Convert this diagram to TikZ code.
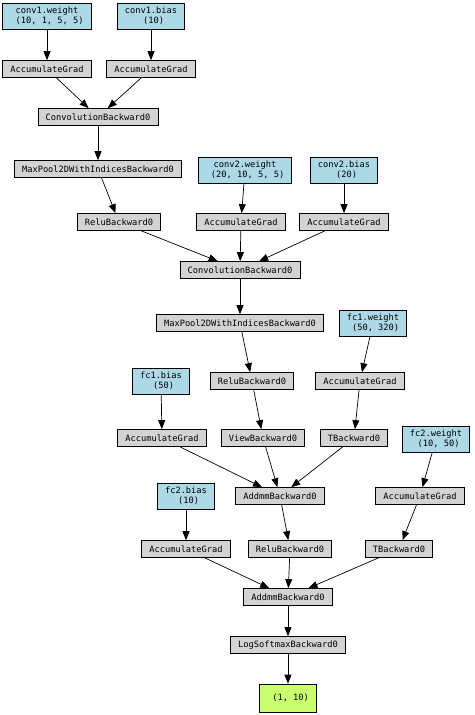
\documentclass[tikz,border=0pt]{standalone}
\usepackage{fontspec}
\setmonofont{DejaVu Sans Mono}
\usepackage{tikz}
\usetikzlibrary{arrows.meta}
\definecolor{parblue}{HTML}{ADD8E6}
\definecolor{opgray}{HTML}{D3D3D3}
\definecolor{outgreen}{HTML}{CAFF70}

\begin{document}
\begin{tikzpicture}[
  x=1pt, y=-1pt,
  font=\ttfamily\fontsize{8.7}{10}\selectfont,
  opbox/.style={draw, line width=0.7pt, fill=opgray, inner xsep=7.5pt,
    inner ysep=0pt, minimum height=17pt},
  parbox/.style={opbox, fill=parblue, align=center, minimum height=26pt,
    inner ysep=2pt},
  outbox/.style={opbox, fill=outgreen, minimum width=57pt, minimum height=28pt},
  arrow/.style={-{Triangle[length=9pt,width=7pt]}, line width=0.7pt}
]
\useasboundingbox (0,0) rectangle (474,715);
% first convolution
\node[parbox] (w1) at (47,16) {conv1.weight\\\phantom{0}(10, 1, 5, 5)};
\node[parbox] (b1) at (151,16) {conv1.bias\\\phantom{0}(10)};
\node[opbox] (ag1w) at (47,69) {AccumulateGrad};
\node[opbox] (ag1b) at (151,69) {AccumulateGrad};
\node[opbox] (conv1) at (98,117) {ConvolutionBackward0};
\node[opbox] (pool1) at (98,169) {MaxPool2DWithIndicesBackward0};
\node[opbox] (relu1) at (119,222) {ReluBackward0};
% second convolution
\node[parbox] (w2) at (245,170) {conv2.weight\\\phantom{0}(20, 10, 5, 5)};
\node[parbox] (b2) at (344,170) {conv2.bias\\\phantom{0}(20)};
\node[opbox] (ag2w) at (241,222) {AccumulateGrad};
\node[opbox] (ag2b) at (344,222) {AccumulateGrad};
\node[opbox] (conv2) at (240,270) {ConvolutionBackward0};
\node[opbox] (pool2) at (240,323) {MaxPool2DWithIndicesBackward0};
% fc1
\node[parbox] (fc1w) at (373,323) {fc1.weight\\\phantom{0}(50, 320)};
\node[opbox] (relu2) at (252,381) {ReluBackward0};
\node[opbox] (ag3w) at (360,381) {AccumulateGrad};
\node[parbox] (fc1b) at (161,381) {fc1.bias\\\phantom{0}(50)};
\node[opbox] (ag3b) at (162,438) {AccumulateGrad};
\node[opbox] (view) at (263,438) {ViewBackward0};
\node[opbox] (t1) at (354,438) {TBackward0};
\node[opbox] (addmm1) at (280,496) {AddmmBackward0};
% fc2
\node[parbox] (fc2w) at (436,439) {fc2.weight\\\phantom{0}(10, 50)};
\node[parbox] (fc2b) at (186,496) {fc2.bias\\\phantom{0}(10)};
\node[opbox] (ag4w) at (420,496) {AccumulateGrad};
\node[opbox] (ag4b) at (186,549) {AccumulateGrad};
\node[opbox] (relu3) at (290,549) {ReluBackward0};
\node[opbox] (t2) at (399,549) {TBackward0};
\node[opbox] (addmm2) at (288,597) {AddmmBackward0};
\node[opbox] (lsm) at (288,645) {LogSoftmaxBackward0};
\node[outbox] (out) at (288,698) {\phantom{0}(1, 10)};

\draw[arrow] (w1) -- (ag1w);
\draw[arrow] (b1) -- (ag1b);
\draw[arrow] (ag1w) -- (conv1);
\draw[arrow] (ag1b) -- (conv1);
\draw[arrow] (conv1) -- (pool1);
\draw[arrow] (pool1) -- (relu1);
\draw[arrow] (relu1) -- (conv2);
\draw[arrow] (w2) -- (ag2w);
\draw[arrow] (b2) -- (ag2b);
\draw[arrow] (ag2w) -- (conv2);
\draw[arrow] (ag2b) -- (conv2);
\draw[arrow] (conv2) -- (pool2);
\draw[arrow] (pool2) -- (relu2);
\draw[arrow] (fc1w) -- (ag3w);
\draw[arrow] (relu2) -- (view);
\draw[arrow] (ag3w) -- (t1);
\draw[arrow] (fc1b) -- (ag3b);
\draw[arrow] (ag3b) -- (addmm1);
\draw[arrow] (view) -- (addmm1);
\draw[arrow] (t1) -- (addmm1);
\draw[arrow] (fc2w) -- (ag4w);
\draw[arrow] (ag4w) -- (t2);
\draw[arrow] (fc2b) -- (ag4b);
\draw[arrow] (addmm1) -- (relu3);
\draw[arrow] (ag4b) -- (addmm2);
\draw[arrow] (relu3) -- (addmm2);
\draw[arrow] (t2) -- (addmm2);
\draw[arrow] (addmm2) -- (lsm);
\draw[arrow] (lsm) -- (out);
\end{tikzpicture}
\end{document}
